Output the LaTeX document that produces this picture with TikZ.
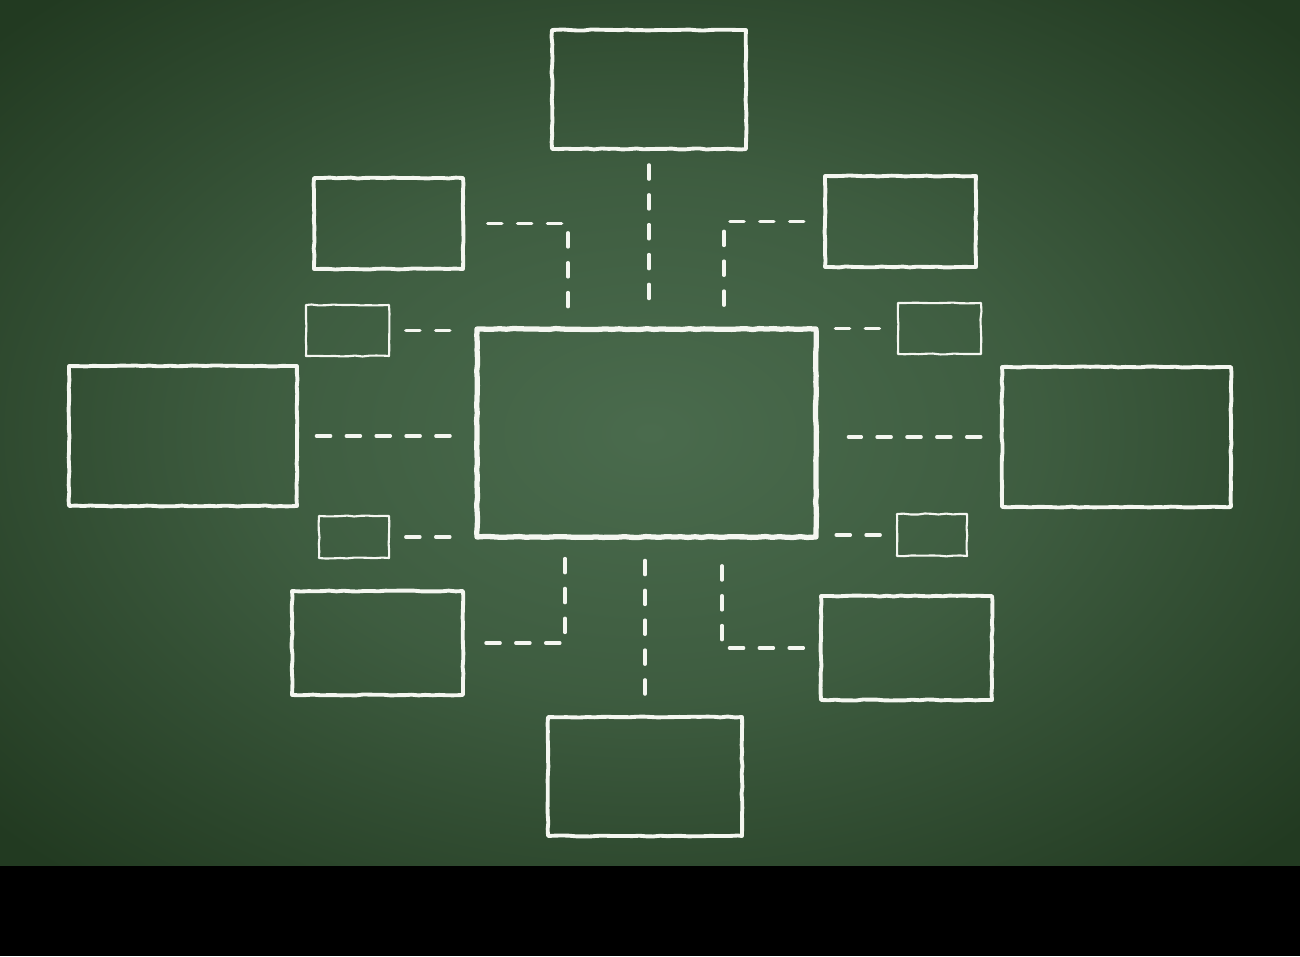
\documentclass[tikz,border=0pt]{standalone}
\usepackage{tikz}
\usetikzlibrary{decorations.pathmorphing}
\definecolor{boardmid}{HTML}{4A6B4D}
\definecolor{boardedge}{HTML}{223A21}
\definecolor{chalk}{HTML}{F4F6F0}
\pgfdeclareradialshading{board}{\pgfpoint{0bp}{0bp}}{color(0bp)=(boardmid); color(15bp)=(boardmid!70!boardedge); color(34bp)=(boardedge); color(50bp)=(boardedge)}

\begin{document}
\begin{tikzpicture}[x=0.02cm,y=-0.02cm,line cap=round,line join=round,
  box/.style={draw=chalk,line width=2.2pt,inner sep=0pt,decorate,decoration={random steps,segment length=4pt,amplitude=0.3pt}},
  bigbox/.style={box,line width=3pt},
  smallbox/.style={box,line width=1.2pt},
  link/.style={draw=chalk,line width=2pt,dash pattern=on 8pt off 9pt}]
\useasboundingbox (0,0) rectangle (1300,956);
\shade[shading=board] (0,0) rectangle (1300,866);
\fill[black] (0,866) rectangle (1300,956);
% boxes
\node[bigbox,minimum width=6.78cm,minimum height=4.16cm] (c) at (646.5,433) {};
\node[box,minimum width=3.88cm,minimum height=2.38cm] (top) at (649,89.5) {};
\node[box,minimum width=3.88cm,minimum height=2.38cm] (bot) at (645,776.5) {};
\node[box,minimum width=2.98cm,minimum height=1.82cm] (ul) at (388.5,223.5) {};
\node[box,minimum width=3.02cm,minimum height=1.82cm] (ur) at (900.5,221.5) {};
\node[box,minimum width=3.42cm,minimum height=2.08cm] (ll) at (377.5,643) {};
\node[box,minimum width=3.42cm,minimum height=2.08cm] (lr) at (906.5,648) {};
\node[box,minimum width=4.56cm,minimum height=2.80cm] (bl) at (183,436) {};
\node[box,minimum width=4.58cm,minimum height=2.80cm] (br) at (1116.5,437) {};
\node[smallbox,minimum width=1.66cm,minimum height=1.02cm] (slt) at (347.5,330.5) {};
\node[smallbox,minimum width=1.66cm,minimum height=1.02cm] (srt) at (939.5,328.5) {};
\node[smallbox,minimum width=1.40cm,minimum height=0.84cm] (slb) at (354,537) {};
\node[smallbox,minimum width=1.40cm,minimum height=0.84cm] (srb) at (932,535) {};
% elbows
\coordinate (ulk) at (568,223.5);
\coordinate (urk) at (724,221.5);
\coordinate (llk) at (565,643);
\coordinate (lrk) at (722,648);
% connectors
\draw[link,shorten <=8pt,shorten >=12pt] (top) -- (top |- c.north);
\draw[link,shorten <=12pt,shorten >=10pt] (bot) -- (bot |- c.south);
\draw[link,shorten <=13pt,shorten >=10pt] (ul.east) -- (ulk) -- (ulk |- c.north);
\draw[link,shorten <=11pt,shorten >=10pt] (ur.west) -- (urk) -- (urk |- c.north);
\draw[link,shorten <=12pt,shorten >=10pt] (ll.east) -- (llk) -- (llk |- c.south);
\draw[link,shorten <=9pt,shorten >=10pt] (lr.west) -- (lrk) -- (lrk |- c.south);
\draw[link,shorten <=10pt,shorten >=12pt] (bl) -- (bl -| c.west);
\draw[link,shorten <=11pt,shorten >=17pt] (br) -- (br -| c.east);
\draw[link,shorten <=9pt,shorten >=8pt] (slt) -- (slt -| c.west);
\draw[link,shorten <=10pt,shorten >=6pt] (srt) -- (srt -| c.east);
\draw[link,shorten <=9pt,shorten >=12pt] (slb) -- (slb -| c.west);
\draw[link,shorten <=9pt,shorten >=6pt] (srb) -- (srb -| c.east);
\end{tikzpicture}
\end{document}
